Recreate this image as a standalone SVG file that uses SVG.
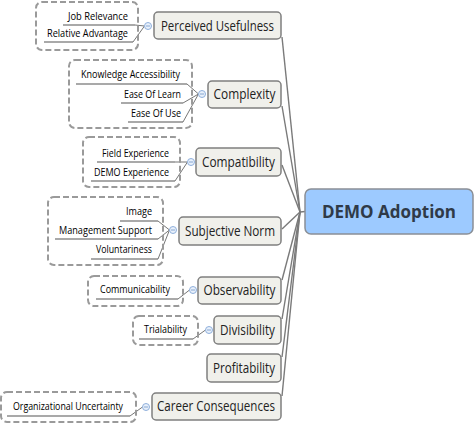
<svg xmlns="http://www.w3.org/2000/svg" width="474" height="443" viewBox="0 0 474 443">
<style>
.pbox{fill:#f0f0eb;stroke:#7f7f7f;stroke-width:1.5}
.ptxt{font-family:"Open Sans","Noto Sans",sans-serif;font-size:14px;fill:#222;text-anchor:middle}
.ctxt{font-family:"Open Sans","Noto Sans",sans-serif;font-size:10.5px;fill:#000;text-anchor:end}
.ul{stroke:#555;stroke-width:1.2;fill:none}
.grp{fill:none;stroke:#9a9a9a;stroke-width:2;stroke-dasharray:6 3}
.main{stroke:#7a7a7a;stroke-width:1.4;fill:none}
.sub{stroke:#777;stroke-width:1;fill:none}
.knob{fill:#e8f0fb;stroke:#8fb0dc;stroke-width:1}
.minus{stroke:#6f95c8;stroke-width:0.8}
</style>
<g id="connectors">
<path class="main" d="M282,37 L300,212"/>
<path class="main" d="M282,106 L300,212"/>
<path class="main" d="M282,165 L300,212"/>
<path class="main" d="M282,229 L300,212"/>
<path class="main" d="M282,280 L300,212"/>
<path class="main" d="M282,319 L300,212"/>
<path class="main" d="M282,357 L300,212"/>
<path class="main" d="M282,396 L300,212"/>
<path class="main" d="M300,212 L305,211.5"/>
<path class="sub" d="M144.5,26 L135,25 M144.5,26 L133,42"/>
<path class="sub" d="M198.5,94 L187,84 M198.5,94 L183,103 M198.5,94 L183,122"/>
<path class="sub" d="M187.5,162 L175,162 M187.5,162 L175,181"/>
<path class="sub" d="M169.5,230 L158,221 M169.5,230 L158,239 M169.5,230 L158,259"/>
<path class="sub" d="M189.5,290 L178,299"/>
<path class="sub" d="M205.5,330 L193,339"/>
<path class="sub" d="M142.5,407 L130,416"/>
</g>
<g id="demo-adoption">
<rect x="305" y="189" width="168" height="45" rx="6" fill="#9dcaff" stroke="#8a8f96" stroke-width="1.5"/>
<text x="389" y="217.5" font-family="'Open Sans','Noto Sans',sans-serif" font-size="17" font-weight="bold" fill="#2f3a48" text-anchor="middle" textLength="134" lengthAdjust="spacingAndGlyphs">DEMO Adoption</text>
</g>
<g id="perceived-usefulness">
<rect class="pbox" x="154" y="12" width="127" height="27" rx="4"/>
<text class="ptxt" x="217.5" y="30.5" textLength="113" lengthAdjust="spacingAndGlyphs">Perceived Usefulness</text>
<circle class="knob" cx="148" cy="26" r="3.5"/><path class="minus" d="M146,26 H150"/>
</g>
<g id="pu-children">
<rect class="grp" x="36" y="2" width="102" height="48" rx="6"/>
<text class="ctxt" x="128" y="20" textLength="60" lengthAdjust="spacingAndGlyphs">Job Relevance</text>
<path class="ul" d="M63,25 H135"/>
<text class="ctxt" x="128" y="37" textLength="81" lengthAdjust="spacingAndGlyphs">Relative Advantage</text>
<path class="ul" d="M44,42 H133"/>
</g>
<g id="complexity">
<rect class="pbox" x="208" y="81" width="73" height="27" rx="4"/>
<text class="ptxt" x="244.5" y="99" textLength="62" lengthAdjust="spacingAndGlyphs">Complexity</text>
<circle class="knob" cx="202" cy="94" r="3.5"/><path class="minus" d="M200,94 H204"/>
</g>
<g id="complexity-children">
<rect class="grp" x="69" y="60" width="123" height="68" rx="6"/>
<text class="ctxt" x="180" y="78" textLength="99" lengthAdjust="spacingAndGlyphs">Knowledge Accessibility</text>
<path class="ul" d="M76,84 H187"/>
<text class="ctxt" x="181" y="98" textLength="57" lengthAdjust="spacingAndGlyphs">Ease Of Learn</text>
<path class="ul" d="M121,103 H183"/>
<text class="ctxt" x="181" y="117" textLength="50" lengthAdjust="spacingAndGlyphs">Ease Of Use</text>
<path class="ul" d="M128,122 H183"/>
</g>
<g id="compatibility">
<rect class="pbox" x="196" y="148" width="85" height="28" rx="4"/>
<text class="ptxt" x="238.5" y="166.5" textLength="73" lengthAdjust="spacingAndGlyphs">Compatibility</text>
<circle class="knob" cx="191" cy="162" r="3.5"/><path class="minus" d="M189,162 H193"/>
</g>
<g id="compatibility-children">
<rect class="grp" x="83" y="137" width="97" height="50" rx="6"/>
<text class="ctxt" x="169" y="157" textLength="67" lengthAdjust="spacingAndGlyphs">Field Experience</text>
<path class="ul" d="M97,162 H175"/>
<text class="ctxt" x="169" y="175.5" textLength="75" lengthAdjust="spacingAndGlyphs">DEMO Experience</text>
<path class="ul" d="M91,181 H175"/>
</g>
<g id="subjective-norm">
<rect class="pbox" x="179" y="217" width="102" height="28" rx="4"/>
<text class="ptxt" x="230" y="235.5" textLength="90" lengthAdjust="spacingAndGlyphs">Subjective Norm</text>
<circle class="knob" cx="173" cy="230" r="3.5"/><path class="minus" d="M171,230 H175"/>
</g>
<g id="subjective-norm-children">
<rect class="grp" x="48" y="197" width="115" height="68" rx="6"/>
<text class="ctxt" x="152" y="214.5" textLength="26" lengthAdjust="spacingAndGlyphs">Image</text>
<path class="ul" d="M120,221 H158"/>
<text class="ctxt" x="152" y="233.5" textLength="93" lengthAdjust="spacingAndGlyphs">Management Support</text>
<path class="ul" d="M55,239 H158"/>
<text class="ctxt" x="152" y="253" textLength="56" lengthAdjust="spacingAndGlyphs">Voluntariness</text>
<path class="ul" d="M91,259 H158"/>
</g>
<g id="observability">
<rect class="pbox" x="198" y="277" width="83" height="27" rx="4"/>
<text class="ptxt" x="239.5" y="295" textLength="72" lengthAdjust="spacingAndGlyphs">Observability</text>
<circle class="knob" cx="193" cy="290" r="3.5"/><path class="minus" d="M191,290 H195"/>
</g>
<g id="observability-children">
<rect class="grp" x="88" y="276" width="95" height="30" rx="6"/>
<text class="ctxt" x="170" y="292.5" textLength="70" lengthAdjust="spacingAndGlyphs">Communicability</text>
<path class="ul" d="M96,299 H178"/>
</g>
<g id="divisibility">
<rect class="pbox" x="214" y="316" width="67" height="28" rx="4"/>
<text class="ptxt" x="247.5" y="334.5" textLength="55" lengthAdjust="spacingAndGlyphs">Divisibility</text>
<circle class="knob" cx="209" cy="330" r="3.5"/><path class="minus" d="M207,330 H211"/>
</g>
<g id="divisibility-children">
<rect class="grp" x="133" y="316" width="65" height="29" rx="6"/>
<text class="ctxt" x="187" y="332.5" textLength="43" lengthAdjust="spacingAndGlyphs">Trialability</text>
<path class="ul" d="M139,339 H193"/>
</g>
<g id="profitability">
<rect class="pbox" x="207" y="354" width="74" height="28" rx="4"/>
<text class="ptxt" x="244" y="372.5" textLength="62" lengthAdjust="spacingAndGlyphs">Profitability</text>
</g>
<g id="career-consequences">
<rect class="pbox" x="152" y="393" width="129" height="27" rx="4"/>
<text class="ptxt" x="216" y="411" textLength="118" lengthAdjust="spacingAndGlyphs">Career Consequences</text>
<circle class="knob" cx="146" cy="407" r="3.5"/><path class="minus" d="M144,407 H148"/>
</g>
<g id="career-children">
<rect class="grp" x="1" y="392" width="135" height="30" rx="6"/>
<text class="ctxt" x="123" y="409.5" textLength="110" lengthAdjust="spacingAndGlyphs">Organizational Uncertainty</text>
<path class="ul" d="M7,416 H130"/>
</g>
</svg>
